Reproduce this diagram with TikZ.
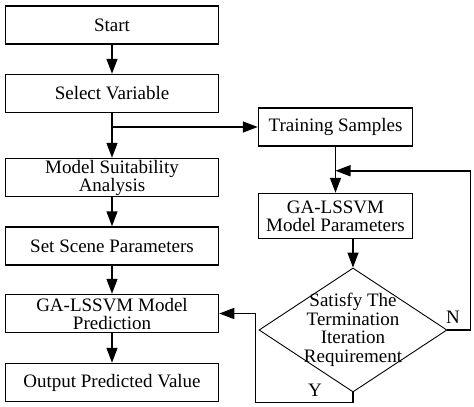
\documentclass[tikz,border=0pt]{standalone}
\usepackage{fontspec}
\setmainfont{Liberation Serif}
\usetikzlibrary{arrows.meta,positioning,shapes.geometric}

\begin{document}
\begin{tikzpicture}[
        x=1pt,y=-1pt,
        font=\fontsize{19}{18}\selectfont,
        stage/.style={draw,line width=1.5pt,inner sep=0pt,
          minimum width=213pt,minimum height=38pt,align=center},
        sidebox/.style={stage,minimum width=154pt},
        decision/.style={draw,diamond,line width=0.9pt,inner sep=0pt,
          minimum width=188pt,minimum height=124pt},
        arr/.style={-{Triangle[length=15pt,width=11pt]},line width=1.5pt}
      ]
        \useasboundingbox (0,0) rectangle (474,407);
        % left column
        \node[stage] (start) at (112,25) {Start};
        \node[stage] (select) at (112,93.5) {Select Variable};
        \node[stage] (suit) at (112,177.5) {Model Suitability\\Analysis};
        \node[stage] (scene) at (112,246) {Set Scene Parameters};
        \node[stage] (predict) at (112,313.5) {GA-LSSVM Model\\Prediction};
        \node[stage] (output) at (112,382.5) {Output Predicted Value};
        % right column
        \node[sidebox] (train) at (335.5,127) {Training Samples};
        \node[sidebox,minimum height=45pt] (params) at (335.5,216) {GA-LSSVM\\Model Parameters};
        \node[decision,label={[align=center,font=\fontsize{19}{18.5}\selectfont]center:Satisfy The\\Termination\\Iteration\\Requirement}] (check) at (353,330) {};
        \draw[arr] (start) -- (select);
        \draw[arr] (select) -- (suit);
        \draw[arr] (select.south |- train.west) -- (train.west);
        \draw[arr] (suit) -- (scene);
        \draw[arr] (scene) -- (predict);
        \draw[arr] (predict) -- (output);
        \draw[arr] (train) -- (params);
        \draw[arr] (params.south -| check.north) -- (check.north);
        \draw[arr] (check.east) -- ++(23,0) |- ([yshift=22pt]params.north);
        \draw[arr] (check.south) -- ++(0,10) -| ([xshift=36pt]predict.east) -- (predict.east);
        \node at (453,317) {N};
        \node at (315,390) {Y};
      \end{tikzpicture}
\end{document}
